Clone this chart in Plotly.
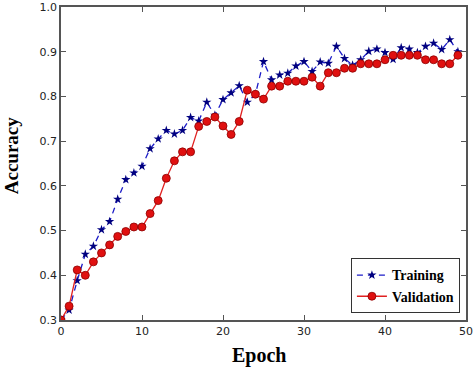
import plotly.graph_objects as go

epochs = list(range(50))
training = [0.300, 0.322, 0.388, 0.447, 0.465, 0.502, 0.520, 0.570, 0.614, 0.629,
            0.644, 0.683, 0.705, 0.724, 0.716, 0.724, 0.753, 0.745, 0.787, 0.758,
            0.793, 0.808, 0.824, 0.787, 0.805, 0.878, 0.837, 0.848, 0.852, 0.868,
            0.878, 0.856, 0.877, 0.874, 0.912, 0.885, 0.870, 0.882, 0.901, 0.906,
            0.898, 0.883, 0.909, 0.906, 0.898, 0.912, 0.919, 0.905, 0.927, 0.900]
validation = [0.300, 0.331, 0.412, 0.400, 0.430, 0.450, 0.468, 0.487, 0.498, 0.508,
              0.508, 0.538, 0.567, 0.617, 0.656, 0.676, 0.676, 0.733, 0.744, 0.754,
              0.734, 0.715, 0.744, 0.814, 0.805, 0.794, 0.823, 0.823, 0.834, 0.834,
              0.834, 0.843, 0.823, 0.853, 0.853, 0.863, 0.863, 0.873, 0.873, 0.873,
              0.882, 0.892, 0.892, 0.892, 0.892, 0.882, 0.882, 0.873, 0.873, 0.892]
x_ticks = [0, 10, 20, 30, 40, 50]
y_ticks = [0.3, 0.4, 0.5, 0.6, 0.7, 0.8, 0.9, 1.0]
x_title = "Epoch"
y_title = "Accuracy"

fig = go.Figure()
fig.add_trace(go.Scatter(
    x=epochs, y=training, name="Training", mode="lines+markers",
    line=dict(color="#1c1cc8", width=1.3, dash="6px,5px"),
    marker=dict(symbol="star", size=7, color="#000080", line=dict(width=0)),
))
fig.add_trace(go.Scatter(
    x=epochs, y=validation, name="Validation", mode="lines+markers",
    line=dict(color="#e02020", width=1.3),
    marker=dict(symbol="circle", size=8, color="#e01010", line=dict(color="#8b0000", width=0.8)),
))

axis_common = dict(
    showgrid=False, zeroline=False, showline=True, linecolor="#555", linewidth=1.5,
    mirror="ticks", ticks="inside", ticklen=5, tickcolor="#555", tickwidth=1,
    tickfont=dict(family="DejaVu Sans", size=11, color="#222"),
    automargin=False,
)
fig.update_xaxes(range=[0, 50], tickvals=x_ticks, ticktext=[str(t) for t in x_ticks], **axis_common)
fig.update_yaxes(range=[0.3, 1.0], tickvals=y_ticks, ticktext=[f"{t:.1f}" for t in y_ticks], **axis_common)

title_font = dict(family="Liberation Serif", size=20, color="#000", weight="bold")
fig.add_annotation(text=x_title, xref="paper", yref="paper", x=0.489, y=-0.115,
                   xanchor="center", yanchor="middle", showarrow=False, font=title_font)
fig.add_annotation(text=y_title, xref="paper", yref="paper", x=-0.123, y=0.527,
                   xanchor="center", yanchor="middle", showarrow=False, textangle=-90,
                   font=dict(family="Liberation Serif", size=19, color="#000", weight="bold"))

fig.update_layout(
    width=474, height=369,
    margin=dict(l=61, r=8, t=7, b=49),
    plot_bgcolor="white", paper_bgcolor="white",
    legend=dict(
        x=0.985, y=0.021, xanchor="right", yanchor="bottom",
        bgcolor="white", bordercolor="#333", borderwidth=1,
        font=dict(family="Liberation Serif", size=14, color="#000", weight="bold"),
        itemwidth=30, tracegroupgap=0,
    ),
    showlegend=True,
)

fig.write_html("out.html", config={"displayModeBar": False},
               post_script="document.body.style.margin='0';document.body.style.overflow='hidden';")
